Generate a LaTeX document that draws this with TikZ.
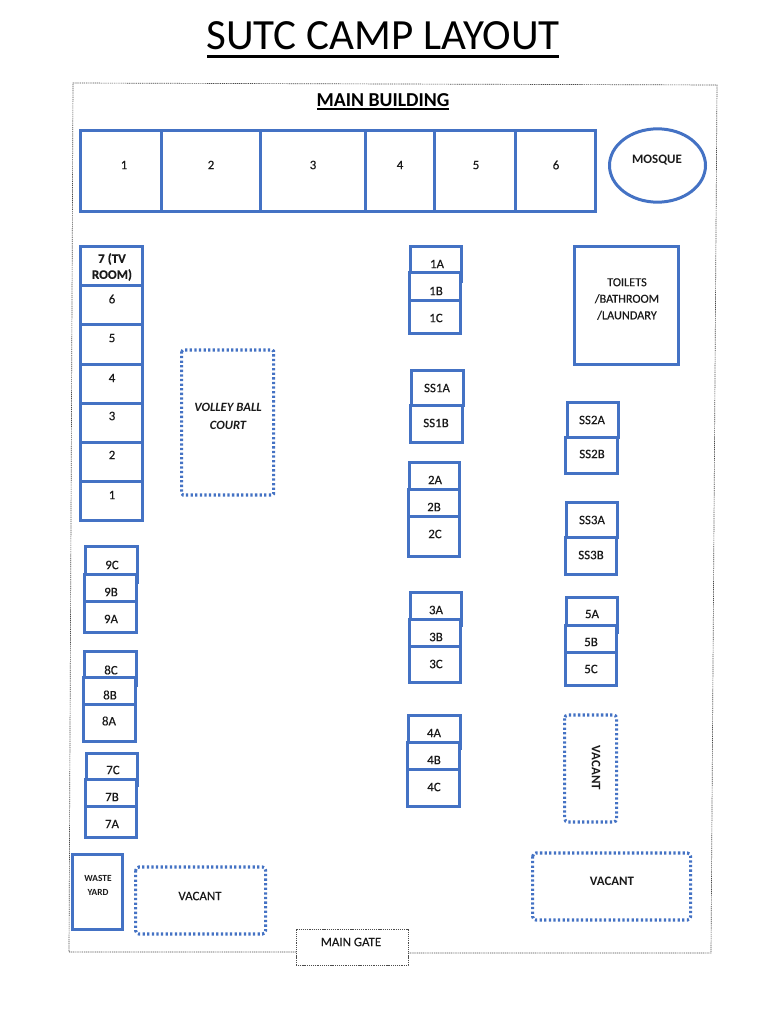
\documentclass[tikz,border=0pt]{standalone}
\usepackage{fontspec}
\usetikzlibrary{shapes.geometric}
\setmainfont{Carlito}
\newfontfamily\labfont[FakeBold=0.35]{Carlito}
\definecolor{roomblue}{HTML}{4472C4}
\definecolor{inktext}{HTML}{1A1A1A}
\tikzset{
  x=0.75pt,y=-0.75pt,
  roomline/.style={draw=roomblue,fill=white,line width=2.25pt,line join=miter,xshift=-0.25pt},
  dotline/.style={draw=roomblue,line width=2.3pt,line cap=butt,dash pattern=on 1.7pt off 1.75pt,rounded corners=2.5pt,xshift=-0.25pt},
  siteline/.style={draw=black!70,line width=0.5pt,dash pattern=on 0.8pt off 0.6pt},
  lab/.style={text=inktext,font=\labfont\fontsize{9.7}{12}\selectfont,align=center,inner sep=0pt},
  boldlab/.style={lab,font=\fontsize{9.7}{12}\selectfont\bfseries},
}
\newcommand{\roombox}[7]{%
  \draw[roomline] (#2,#3) rectangle (#4,#5);
  \node[lab] (#1) at (#6,#7) {\labeltext};}
\newcommand{\room}[8]{\def\labeltext{#8}\roombox{#1}{#2}{#3}{#4}{#5}{#6}{#7}}
\begin{document}
\begin{tikzpicture}
\useasboundingbox[fill=white] (0,0) rectangle (768,1024);
% title
\node[text=black,font=\fontsize{32.3}{36}\selectfont,inner sep=0pt] (title) at (383,36) {SUTC CAMP LAYOUT};
\draw[black,line width=2pt] (207,56.5) -- (559,56.5);
% site border
\draw[siteline] (296,952) -- (69,952) -- (73,83) -- (717,85) -- (711,953) -- (408,953);
\node[draw=black!70,line width=0.5pt,dash pattern=on 0.8pt off 0.6pt,minimum width=84pt,minimum height=27pt,inner sep=0pt] (gatebox) at (352,947) {};
\node[lab] (gate) at (351,942) {MAIN GATE};
\node[text=black,font=\fontsize{14.8}{18}\selectfont\bfseries,inner sep=0pt] (main) at (383,100) {MAIN BUILDING};
\draw[black,line width=1.3pt] (317,109) -- (449,109);
% top row
\room{t1}{81}{130}{162}{211}{124}{165}{1}
\room{t2}{162}{130}{261}{211}{211}{165}{2}
\room{t3}{261}{130}{366}{211}{313}{165}{3}
\room{t4}{366}{130}{435}{211}{400}{165}{4}
\room{t5}{435}{130}{516}{211}{476}{165}{5}
\room{t6}{516}{130}{596}{211}{556}{165}{6}
\node[draw=roomblue,line width=2.25pt,ellipse,minimum width=72pt,minimum height=55pt,inner sep=0pt] (mosqueshape) at (657.5,165.5) {};
\node[boldlab] (mosque) at (657,160) {MOSQUE};
% left column
\room{l7}{81}{246}{143}{285}{112}{267}{\textbf{7 (TV}\\\textbf{ROOM)}}
\room{l6}{81}{285}{143}{324}{112}{299}{6}
\room{l5}{81}{324}{143}{364}{112}{338}{5}
\room{l4}{81}{364}{143}{403}{112}{378}{4}
\room{l3}{81}{403}{143}{442}{112}{416}{3}
\room{l2}{81}{442}{143}{481}{112}{455}{2}
\room{l1}{81}{481}{143}{520}{112}{495}{1}
% volley ball
\draw[dotline,rounded corners=1pt] (182,350) rectangle (274,495);
\node[boldlab,font=\fontsize{9.5}{13.5}\selectfont\bfseries\itshape] (court) at (228,416) {VOLLEY BALL\\COURT};
% 9
\room{n9c}{86}{546}{138}{582}{112}{565}{9C}
\room{n9b}{85}{574}{137}{602}{111}{592}{9B}
\room{n9a}{85}{601}{137}{632}{111}{619}{9A}
% 8
\room{n8c}{85}{651}{137}{685}{111}{670}{8C}
\room{n8b}{84}{677}{136}{705}{110}{695}{8B}
\room{n8a}{84}{704}{136}{741}{109}{721}{8A}
% 7
\room{n7c}{87}{753}{138}{785}{113}{770}{7C}
\room{n7b}{86}{779}{137}{806}{112}{797}{7B}
\room{n7a}{86}{806}{137}{837}{112}{824}{7A}
% waste
\draw[roomline] (73,854) rectangle (123,929);
\node[boldlab,font=\fontsize{7}{10}\selectfont\bfseries] (waste) at (98,885.5) {WASTE\\YARD};
\draw[dotline] (136,867) rectangle (266,934);
\node[lab] (vac1) at (200,896) {VACANT};
% centre
\room{c1a}{411}{246}{462}{281}{437}{264}{1A}
\room{c1b}{410}{272}{461}{300}{436}{291}{1B}
\room{c1c}{410}{300}{461}{333}{436}{318}{1C}
\room{s1a}{412}{370}{464}{405}{437}{388}{SS1A}
\room{s1b}{411}{405}{463}{442}{436}{423}{SS1B}
\room{c2a}{410}{462}{460}{495}{435}{480}{2A}
\room{c2b}{409}{489}{460}{516}{434}{507}{2B}
\room{c2c}{409}{516}{460}{556}{435}{534}{2C}
\room{c3a}{411}{592}{462}{625}{436}{610}{3A}
\room{c3b}{410}{619}{461}{646}{436}{637}{3B}
\room{c3c}{410}{646}{461}{682}{436}{664}{3C}
\room{c4a}{409}{715}{461}{748}{434}{733}{4A}
\room{c4b}{408}{742}{460}{769}{434}{760}{4B}
\room{c4c}{408}{769}{460}{806}{434}{787}{4C}
% right
\draw[roomline] (575,246) rectangle (679,364);
\node[lab,font=\labfont\fontsize{9.2}{12.4}\selectfont] (toilets) at (627,299) {TOILETS\\/BATHROOM\\/LAUNDARY};
\room{s2a}{568}{402}{619}{437}{592}{420}{SS2A}
\room{s2b}{566}{437}{618}{473}{592}{454}{SS2B}
\room{s3a}{567}{502}{618}{537}{592}{520}{SS3A}
\room{s3b}{566}{537}{617}{574}{591}{555}{SS3B}
\room{r5a}{567}{597}{618}{632}{592}{614}{5A}
\room{r5b}{566}{625}{617}{652}{591}{642}{5B}
\room{r5c}{566}{652}{617}{685}{591}{669}{5C}
\draw[dotline] (565,715) rectangle (617,822);
\node[boldlab,rotate=-90] (vac2) at (596,768) {VACANT};
\draw[dotline] (533,853) rectangle (691,920);
\node[boldlab] (vac3) at (612,881) {VACANT};
\end{tikzpicture}
\end{document}
